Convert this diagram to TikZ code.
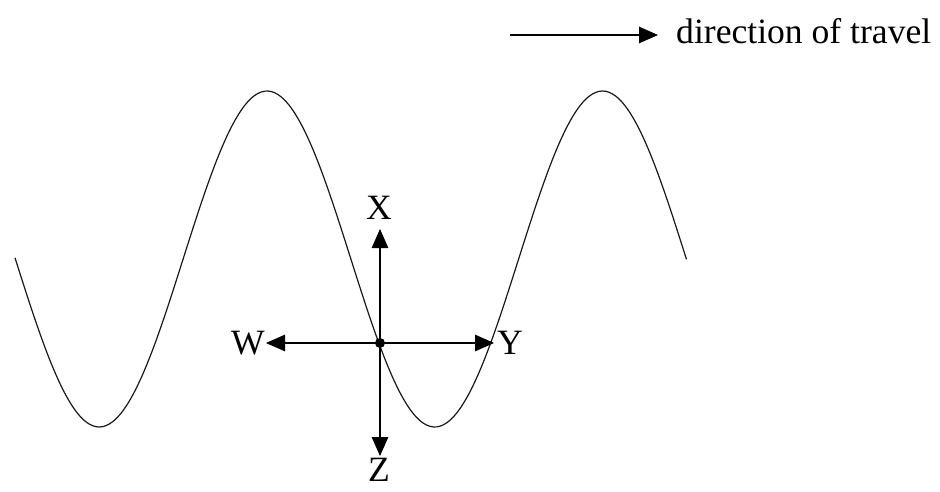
\documentclass[tikz,border=0pt]{standalone}
\usepackage{fontspec}
\setmainfont{Liberation Serif}
\usetikzlibrary{arrows.meta}
\begin{document}
\begin{tikzpicture}[x=1pt,y=-1pt,
  wave/.style={line width=1.2pt,black!90},
  vec/.style={line width=1.1pt,black,-{Triangle[length=19pt,width=16.5pt]}},
  lbl/.style={inner sep=0pt,font=\fontsize{35.6}{42}\selectfont}]
\useasboundingbox (0,0) rectangle (940,492);
% wave
\draw[wave,domain=15:686.5,samples=200,smooth] plot (\x,{259-168*cos(((\x-267)/335.5)*360)});
% point and displacement arrows
\node[circle,fill=black,inner sep=0pt,minimum size=10pt] (o) at (380,343) {};
\coordinate (tx) at (380,229);
\coordinate (tw) at (266,343);
\coordinate (ty) at (494,343);
\coordinate (tz) at (380,456);
\draw[vec] (o.center) -- (tx);
\draw[vec] (o.center) -- (tw);
\draw[vec] (o.center) -- (ty);
\draw[vec] (o.center) -- (tz);
\node[lbl] (X) at (379,208) {X};
\node[lbl] (W) at (248,343) {W};
\node[lbl] (Y) at (510,343) {Y};
\node[lbl] (Z) at (379,470) {Z};
% direction of travel
\coordinate (ds) at (510,35);
\coordinate (de) at (658,35);
\draw[vec] (ds) -- (de);
\node[lbl,anchor=base west] (dt) at (676,44) {direction of travel};
\end{tikzpicture}
\end{document}
